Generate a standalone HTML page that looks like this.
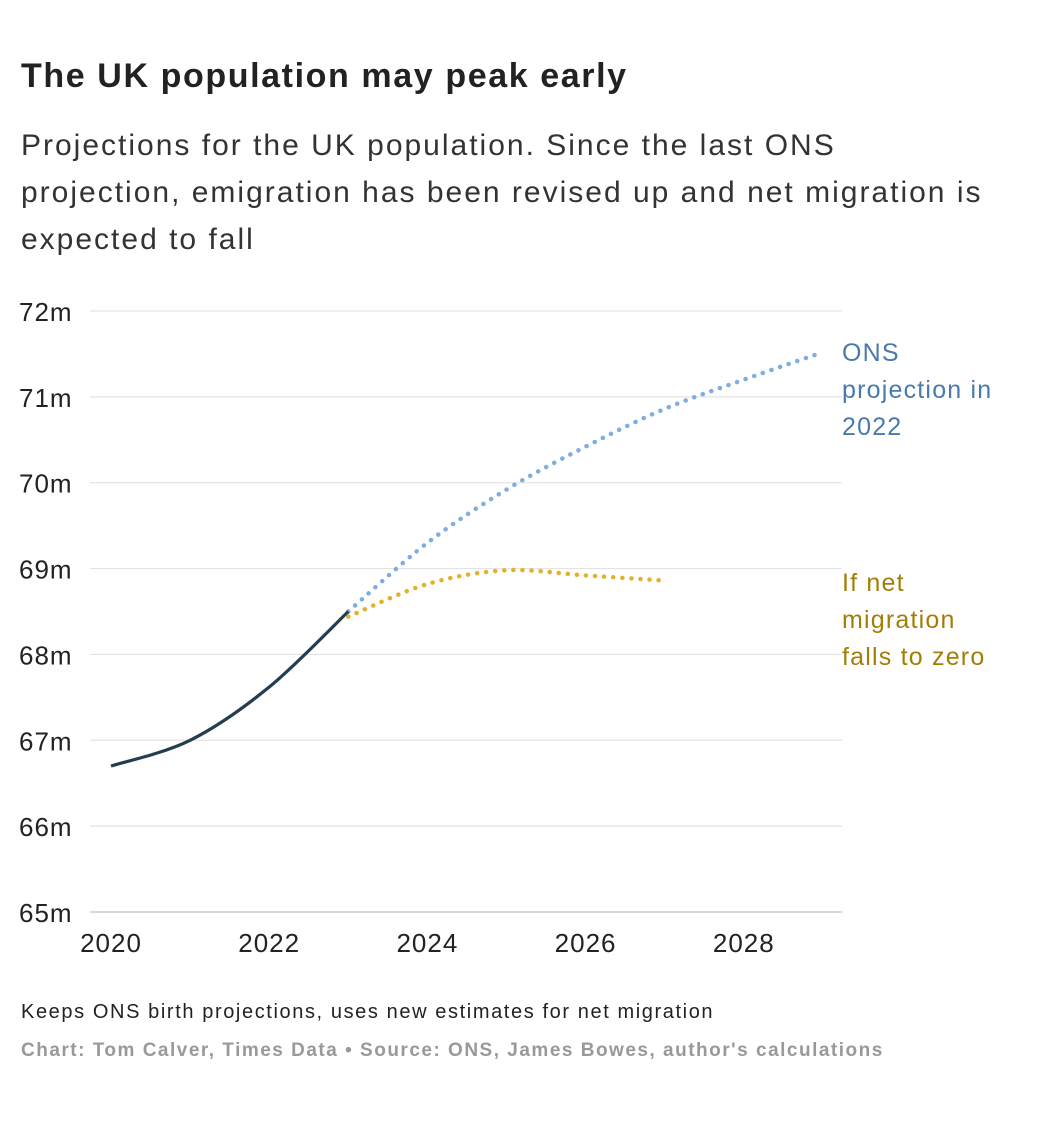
<!DOCTYPE html>
<html><head><meta charset="utf-8"><style>
body{margin:0;background:#fff;font-family:"Liberation Sans",sans-serif;width:1040px;height:1138px;position:relative;overflow:hidden}
.t{position:absolute;left:21px;margin:0}
</style></head><body>
<h1 class="t" style="top:57px;font-size:34px;letter-spacing:1.6px;font-weight:bold;color:#222">The UK population may peak early</h1>
<p class="t" style="top:122px;font-size:30px;letter-spacing:2.0px;line-height:47px;color:#333;white-space:nowrap">Projections for the UK population. Since the last ONS<br>projection, emigration has been revised up and net migration is<br>expected to fall</p>
<svg id="c" width="1040" height="1138" style="position:absolute;left:0;top:0"></svg>
<p class="t" style="top:1001px;font-size:20px;letter-spacing:1.6px;color:#222">Keeps ONS birth projections, uses new estimates for net migration</p>
<p class="t" style="top:1040px;font-size:19px;letter-spacing:1.5px;color:#999;font-weight:bold">Chart: Tom Calver, Times Data • Source: ONS, James Bowes, author's calculations</p>
<script>
const yTicks=[65,66,67,68,69,70,71,72];
const xTicks=[2020,2022,2024,2026,2028];
const actualYears=[2020,2021,2022,2023];
const actualVals=[66.7,67.0,67.62,68.5];
const onsYears=[2023,2024,2025,2026,2027,2028,2029];
const onsVals=[68.5,69.3,69.92,70.42,70.86,71.2,71.52];
const zeroYears=[2023,2024,2025,2026,2027];
const zeroVals=[68.44,68.82,68.98,68.92,68.86];
const NS="http://www.w3.org/2000/svg",svg=document.getElementById('c');
const x=v=>111+(v-2020)*79.1, y=v=>912-(v-65)*85.86;
function mk(t,a){const e=document.createElementNS(NS,t);for(const k in a)e.setAttribute(k,a[k]);svg.appendChild(e);return e;}
yTicks.forEach(v=>{
 const g=mk('line',{x1:90,x2:842,y1:y(v),y2:y(v),stroke:v==65?'#ccc':'#e3e3e3','stroke-width':v==65?1.5:1.2});
 
 
 const t=mk('text',{x:19,y:y(v)+10,'font-size':26,'letter-spacing':1,fill:'#222'});t.textContent=v+'m';
 
 
});
xTicks.forEach(v=>{
 const t=mk('text',{x:x(v),y:952,'font-size':26,'letter-spacing':1,fill:'#222','text-anchor':'middle'});t.textContent=v;
 
 
});
function path(xs,vs){const p=xs.map((d,i)=>[x(d),y(vs[i])]);let d='M'+p[0];
 for(let i=0;i<p.length-1;i++){const p0=p[i-1]||p[i],p1=p[i],p2=p[i+1],p3=p[i+2]||p2;
 d+=`C${p1[0]+(p2[0]-p0[0])/6},${p1[1]+(p2[1]-p0[1])/6} ${p2[0]-(p3[0]-p1[0])/6},${p2[1]-(p3[1]-p1[1])/6} ${p2[0]},${p2[1]}`;}return d;}
const l1=mk('path',{d:path(onsYears,onsVals),fill:'none',stroke:'#7eaee0','stroke-width':4.5,'stroke-dasharray':'0.1 9','stroke-linecap':'round'});


const l2=mk('path',{d:path(zeroYears,zeroVals),fill:'none',stroke:'#e0b22e','stroke-width':4.5,'stroke-dasharray':'0.1 9','stroke-linecap':'round'});


const l3=mk('path',{d:path(actualYears,actualVals),fill:'none',stroke:'#233e50','stroke-width':3.2});


function lab(lines,y0,col,name){lines.forEach((s,i)=>{const t=mk('text',{x:842,y:y0+i*37,'font-size':25,'letter-spacing':1.2,fill:col});t.textContent=s;
 
 });}
lab(['ONS','projection in','2022'],361,'#4a7aad','ons-label');
lab(['If net','migration','falls to zero'],591,'#a57d06','zero-migration-label');
</script>
</body></html>
